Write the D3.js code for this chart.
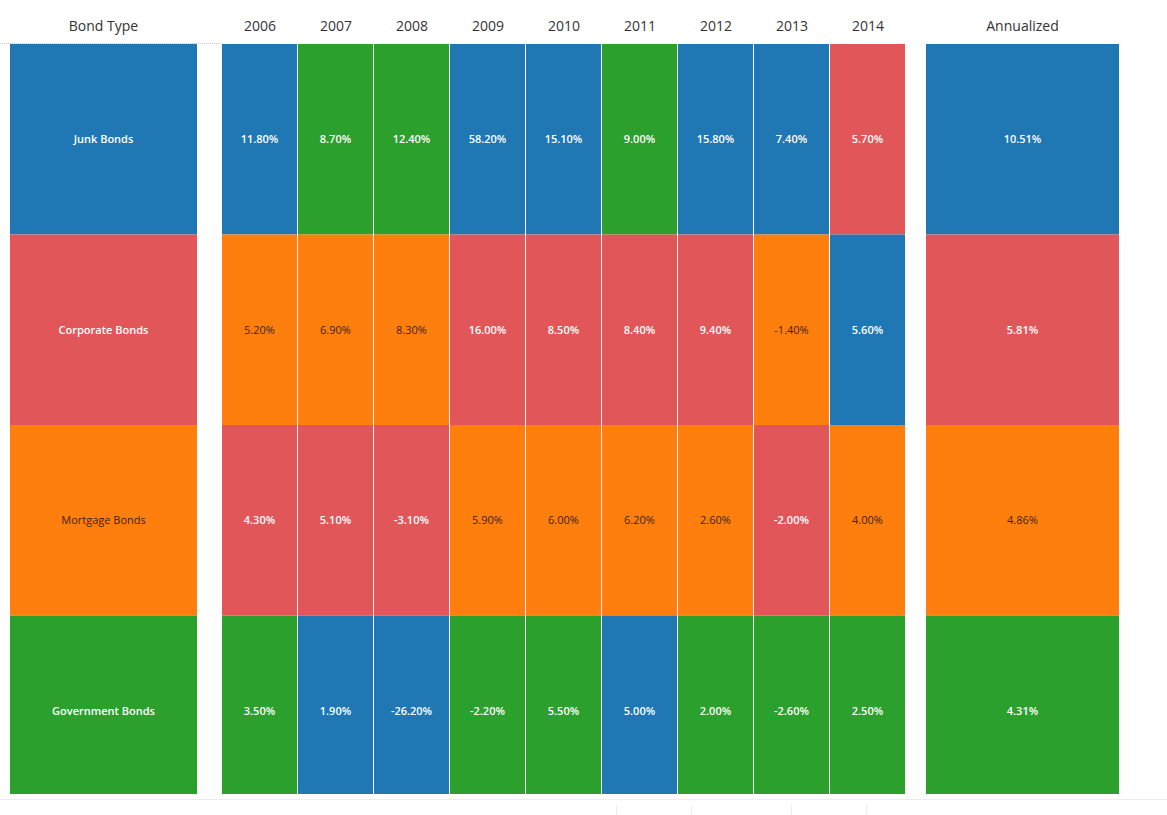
<!DOCTYPE html>
<html>
<head>
<meta charset="utf-8">
<script src="https://cdn.jsdelivr.net/npm/d3@7"></script>
<style>
  body { margin: 0; background: #fff; }
  text { font-family: "Open Sans", sans-serif; }
</style>
</head>
<body>
<script>
//global variables
var w = 1167;
var h = 815;

//data
var bondTypes = ["Junk Bonds", "Corporate Bonds", "Mortgage Bonds", "Government Bonds"];
var years = ["2006", "2007", "2008", "2009", "2010", "2011", "2012", "2013", "2014"];
var junk       = [11.8, 1.9, -26.2, 58.2, 15.1, 5.0, 15.8, 7.4, 5.6];
var corporate  = [4.3, 5.1, -3.1, 16.0, 8.5, 8.4, 9.4, -2.0, 5.7];
var mortgage   = [5.2, 6.9, 8.3, 5.9, 6.0, 6.2, 2.6, -1.4, 4.0];
var government = [3.5, 8.7, 12.4, -2.2, 5.5, 9.0, 2.0, -2.6, 2.5];
var annualized = [10.51, 5.81, 4.86, 4.31];

var series = [junk, corporate, mortgage, government];

var color = d3.scaleOrdinal()
  .domain(bondTypes)
  .range(["#1f77b4", "#e15759", "#ff7f0e", "#2ca02c"]);

var labelColor = d3.scaleOrdinal()
  .domain(bondTypes)
  .range(["#ffffff", "#ffffff", "#3b2411", "#ffffff"]);

var fmt = function(v) { return v.toFixed(2) + "%"; };

//scales (note: "top" is reserved on window, so use topY)
var topY = 44, clipBottom = 794;
var yScale = d3.scaleBand()
  .domain(d3.range(4))
  .range([topY, topY + 4 * 190.5]);

var xYear = d3.scaleBand()
  .domain(years)
  .range([222, 906]);

//build cells: each year ranked high -> low
var cells = [];
years.forEach(function(yr, j) {
  var col = bondTypes.map(function(b, i) { return { type: b, value: series[i][j] }; });
  col.sort(function(a, b) { return b.value - a.value; });
  col.forEach(function(d, r) {
    cells.push({ year: yr, rank: r, type: d.type, value: d.value });
  });
});

var annual = bondTypes.map(function(b, i) { return { type: b, value: annualized[i] }; })
  .sort(function(a, b) { return b.value - a.value; });

//svg
var svg = d3.select("body")
  .append("svg")
  .attr("width", w)
  .attr("height", h);

svg.append("defs").append("clipPath")
  .attr("id", "body-clip")
  .append("rect")
  .attr("x", 0).attr("y", topY)
  .attr("width", w).attr("height", clipBottom - topY);

var body = svg.append("g").attr("clip-path", "url(#body-clip)");

//headers
var headers = [{ t: "Bond Type", x: (10 + 197) / 2 }]
  .concat(years.map(function(y) { return { t: y, x: xYear(y) + xYear.bandwidth() / 2 }; }))
  .concat([{ t: "Annualized", x: (926 + 1119) / 2 }]);

svg.selectAll("text.header")
  .data(headers)
  .enter()
  .append("text")
  .attr("class", "header")
  .attr("x", function(d) { return d.x; })
  .attr("y", 26)
  .attr("dy", "0.35em")
  .attr("text-anchor", "middle")
  .attr("font-size", "14px")
  .attr("fill", "#333")
  .text(function(d) { return d.t; });

//dotted header rule under Bond Type
svg.append("line")
  .attr("x1", 0).attr("x2", 222)
  .attr("y1", topY - 0.5).attr("y2", topY - 0.5)
  .attr("stroke", "#c8c8c8")
  .attr("stroke-dasharray", "1,1");

//cell drawing helper
function drawColumn(data, x, width, rowFn, textFn) {
  var xf = typeof x === "function" ? x : function() { return x; };
  var g = body.append("g");
  g.selectAll("rect")
    .data(data)
    .enter()
    .append("rect")
    .attr("x", xf)
    .attr("y", function(d, i) { return yScale(rowFn(d, i)); })
    .attr("width", width)
    .attr("height", yScale.bandwidth())
    .attr("fill", function(d) { return color(d.type); });
  g.selectAll("text")
    .data(data)
    .enter()
    .append("text")
    .attr("x", function(d) { return xf(d) + width / 2; })
    .attr("y", function(d, i) { return yScale(rowFn(d, i)) + yScale.bandwidth() / 2; })
    .attr("dy", "0.35em")
    .attr("text-anchor", "middle")
    .attr("font-size", "11px")
    .attr("font-weight", function(d) { return labelColor(d.type) === "#ffffff" ? 600 : 400; })
    .attr("fill", function(d) { return labelColor(d.type); })
    .text(textFn);
}

//Bond Type column
drawColumn(bondTypes.map(function(b) { return { type: b }; }), 10, 187,
  function(d, i) { return i; },
  function(d) { return d.type; });

//Year columns
drawColumn(cells, function(d) { return xYear(d.year); }, xYear.bandwidth() - 1,
  function(d) { return d.rank; },
  function(d) { return fmt(d.value); });

//Annualized column
drawColumn(annual, 926, 193,
  function(d, i) { return i; },
  function(d) { return fmt(d.value); });

//bottom rule and scrollbar ticks
svg.append("line")
  .attr("x1", 0).attr("x2", w)
  .attr("y1", 799.5).attr("y2", 799.5)
  .attr("stroke", "#ededed");

svg.selectAll("line.tick")
  .data([616, 691, 791, 866])
  .enter()
  .append("line")
  .attr("class", "tick")
  .attr("x1", function(d) { return d + 0.5; })
  .attr("x2", function(d) { return d + 0.5; })
  .attr("y1", 805).attr("y2", h)
  .attr("stroke", "#ececec");
</script>
</body>
</html>
